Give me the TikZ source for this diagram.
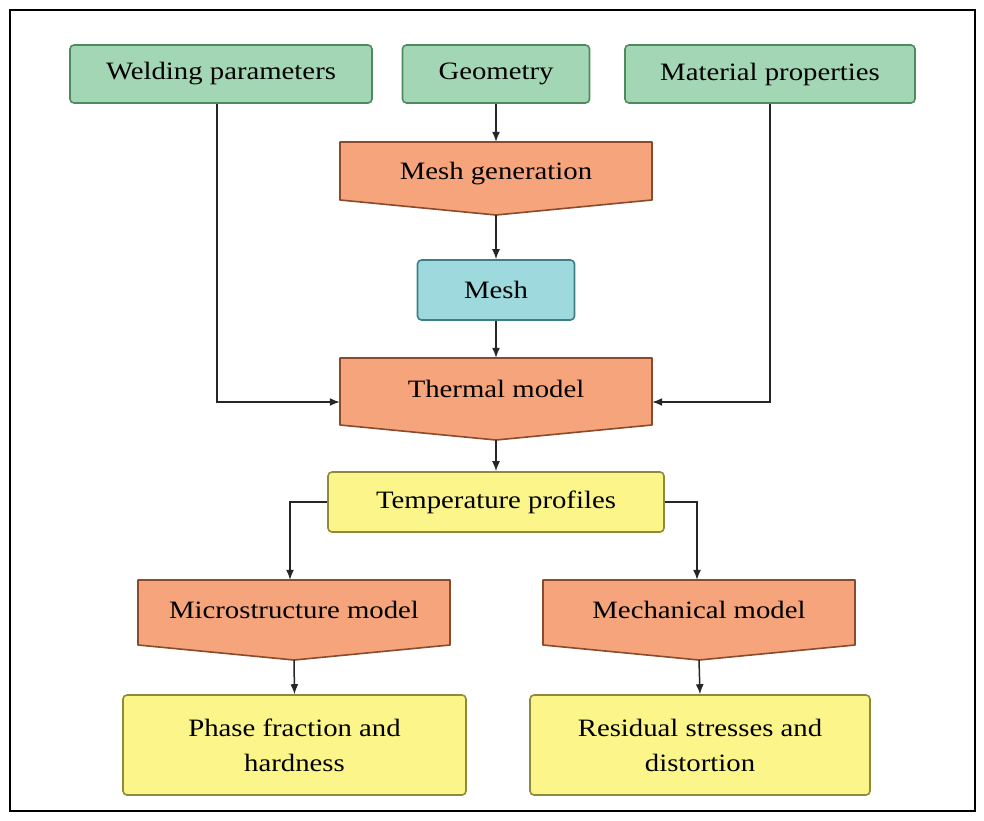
\documentclass[tikz,border=0pt]{standalone}
\usepackage{fontspec}
\setmainfont{Liberation Serif}
\usetikzlibrary{arrows.meta}
\definecolor{gr}{HTML}{A3D6B4}
\definecolor{grd}{HTML}{4E8A5E}
\definecolor{og}{HTML}{F5A47C}
\definecolor{ogd}{HTML}{8A4A2C}
\definecolor{cy}{HTML}{9ED9DE}
\definecolor{cyd}{HTML}{3E7F86}
\definecolor{ye}{HTML}{FBF58A}
\definecolor{yed}{HTML}{8E8A3A}
\tikzset{
 txt/.style={font=\fontsize{25}{29}\selectfont, xscale=1.15},
 box/.style={draw, rounded corners=4pt, line width=1.6pt, align=center, inner sep=0pt},
 arr/.style={-{Latex[length=10pt,width=8pt]}, line width=1.5pt, draw=black!85},
 pent/.style={line width=1.6pt, draw=ogd, fill=og, line join=round},
}
\newcommand{\pentagon}[5]{% x1 x2 ytop ycorner ypoint
 \path[pent] (#1,#3) -- (#2,#3) -- (#2,#4) -- ({(#1+#2)/2},#5) -- (#1,#4) -- cycle;}
\begin{document}
\begin{tikzpicture}[x=1pt,y=-1pt]
\useasboundingbox (0,0) rectangle (984,820);
\fill[white] (0,0) rectangle (984,820);
\draw[line width=1.8pt] (10,10) rectangle (975,811);
% top
\node[box, draw=grd, fill=gr, minimum width=302pt, minimum height=58pt] (wp) at (221,74) {};
\node[txt] at (221,74) {Welding parameters};
\node[box, draw=grd, fill=gr, minimum width=187pt, minimum height=58pt] (geo) at (496,74) {};
\node[txt] at (496,74) {Geometry};
\node[box, draw=grd, fill=gr, minimum width=290pt, minimum height=58pt] (mp) at (770,74) {};
\node[txt] at (770,74) {Material properties};
% mesh generation
\pentagon{340}{652}{142}{200}{215}
\node[minimum width=312pt, minimum height=73pt, inner sep=0pt] (mg) at (496,178.5) {};
\node[txt] at (496,174) {Mesh generation};
\node[box, draw=cyd, fill=cy, minimum width=157pt, minimum height=60pt] (mesh) at (496,290) {};
\node[txt] at (496,290) {Mesh};
\pentagon{340}{652}{358}{425}{440}
\node[minimum width=312pt, minimum height=82pt, inner sep=0pt] (tm) at (496,399) {};
\node[txt] at (496,389) {Thermal model};
\node[box, draw=yed, fill=ye, minimum width=336pt, minimum height=60pt] (tp) at (496,502) {};
\node[txt] at (496,502) {Temperature profiles};
\pentagon{138}{450}{580}{645}{660}
\node[minimum width=312pt, minimum height=80pt, inner sep=0pt] (mi) at (294,620) {};
\node[txt] at (294,610) {Microstructure model};
\pentagon{543}{855}{580}{645}{660}
\node[minimum width=312pt, minimum height=80pt, inner sep=0pt] (me) at (699,620) {};
\node[txt] at (699,610) {Mechanical model};
\node[box, draw=yed, fill=ye, minimum width=343pt, minimum height=100pt] (pf) at (294.5,745) {};
\node[txt, align=center] at (294.5,745) {Phase fraction and\\[6pt]hardness};
\node[box, draw=yed, fill=ye, minimum width=340pt, minimum height=100pt] (rs) at (700,745) {};
\node[txt, align=center] at (700,745) {Residual stresses and\\[6pt]distortion};
% connectors
\draw[arr] (geo.south) -- (mg.north);
\draw[arr] (mg.south) -- (mesh.north);
\draw[arr] (mesh.south) -- (tm.north);
\draw[arr] (tm.south) -- (tp.north);
\draw[arr] (wp.south -| 217,0) |- (tm.west |- 0,402);
\draw[arr] (mp.south) |- (tm.east |- 0,402);
\draw[arr] (tp.west) -| (mi.north -| 290,0);
\draw[arr] (tp.east) -| (me.north -| 697,0);
\draw[arr] (mi.south) -- (pf.north);
\draw[arr] (me.south) -- (rs.north);
\end{tikzpicture}
\end{document}
